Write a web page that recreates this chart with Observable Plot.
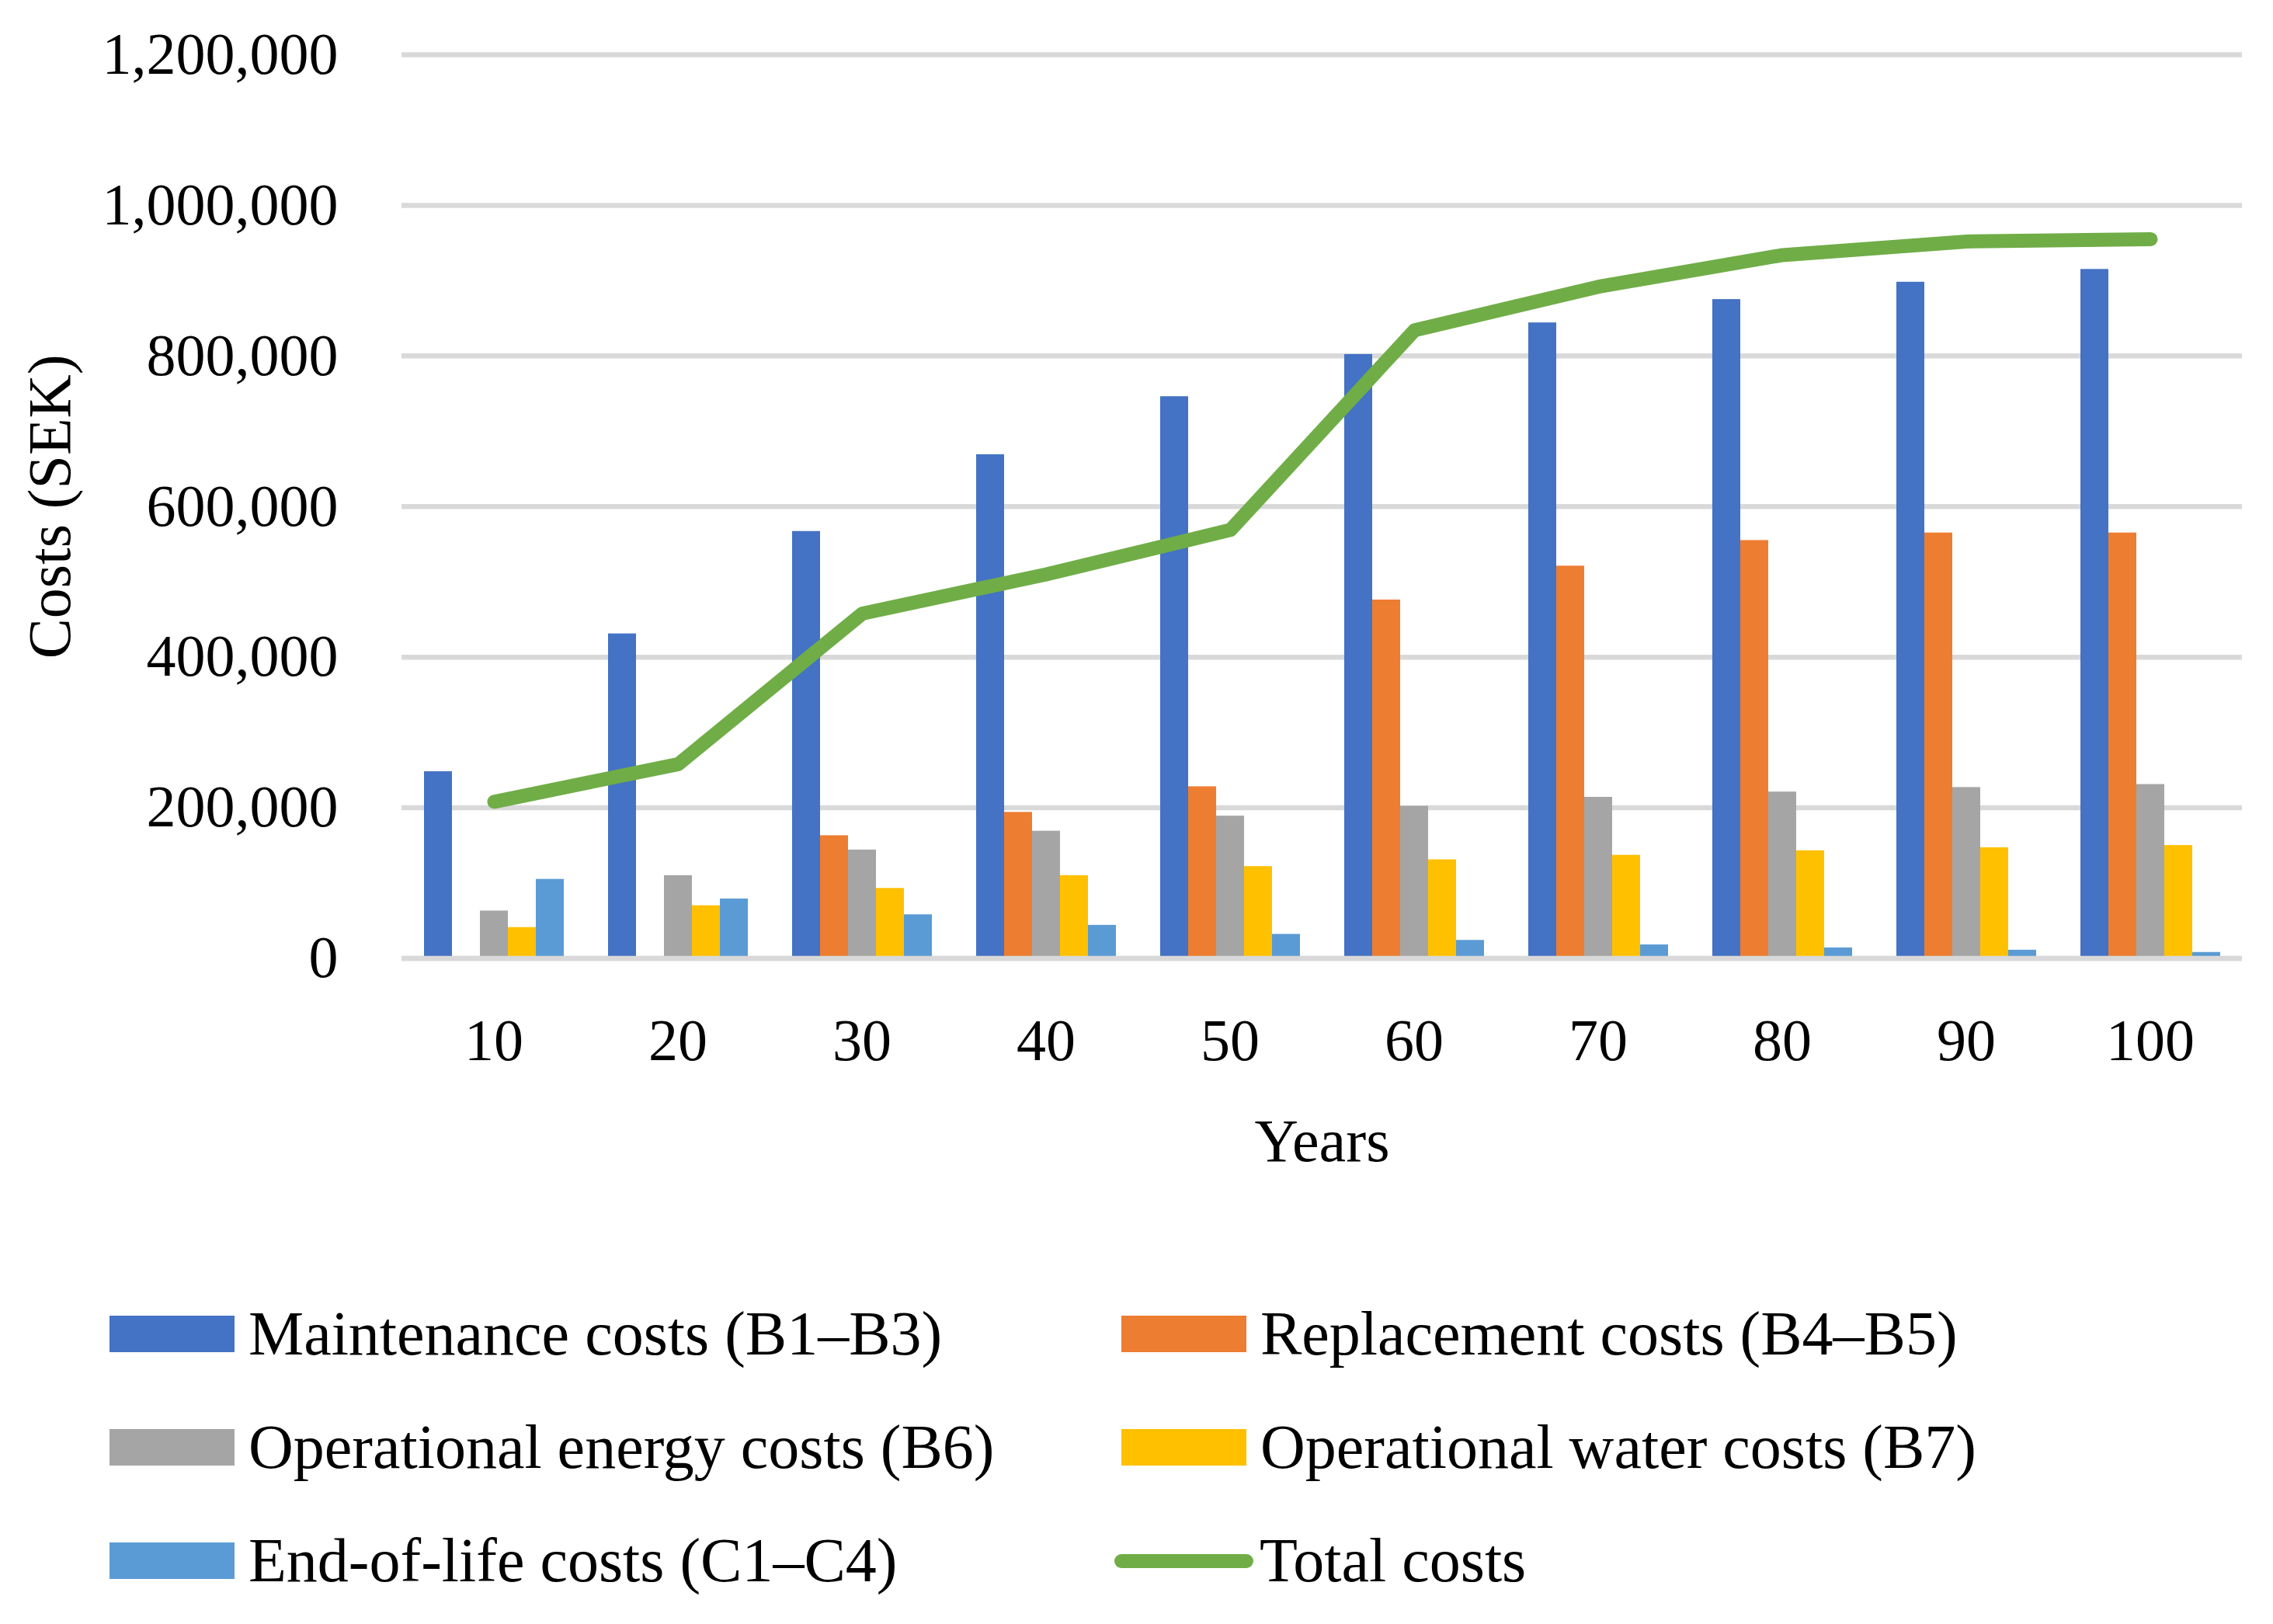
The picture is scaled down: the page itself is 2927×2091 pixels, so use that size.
<!DOCTYPE html>
<html>
<head>
<meta charset="utf-8">
<script src="https://cdn.jsdelivr.net/npm/d3@7"></script>
<script src="https://cdn.jsdelivr.net/npm/@observablehq/plot@0.6"></script>
<style>
html, body { margin: 0; padding: 0; background: #fff; overflow: hidden; }
#chart { position: relative; width: 2927px; height: 1560px; }
#chart svg { position: absolute; left: 0; top: 0; background: transparent; }
#legend { display: grid; grid-template-columns: 1303px auto; padding: 84.5px 0 0 141px;
  font-family: "Liberation Serif", serif; font-size: 80px; color: #000; }
.item { display: flex; align-items: center; height: 146px; white-space: nowrap; }
.sw { width: 161px; height: 47px; margin-right: 18px; flex: none; }
.ln { width: 179px; height: 18px; border-radius: 9px; margin-left: -9px; margin-right: 8px; flex: none; }
</style>
</head>
<body>
<div id="chart"></div>
<div id="legend"></div>
<script>
// ---- data ----
const years = [10, 20, 30, 40, 50, 60, 70, 80, 90, 100];
const maintenance = [248000, 431000, 567000, 669000, 746000, 802000, 844000, 875000, 898000, 915000];
const replacement = [0, 0, 163000, 194000, 228000, 476000, 521000, 555000, 565000, 565000];
const energy = [63000, 110000, 144000, 169000, 189000, 202000, 214000, 221000, 227000, 231000];
const water = [41000, 70000, 93000, 110000, 122000, 131000, 137000, 143000, 147000, 150000];
const endOfLife = [105000, 79000, 58000, 44000, 32000, 24000, 18000, 14000, 11000, 8000];
const total = [208000, 258000, 458000, 510000, 569000, 834000, 892000, 934000, 952000, 955000];
const yTicks = [0, 200000, 400000, 600000, 800000, 1000000, 1200000];
const seriesNames = [
  "Maintenance costs (B1–B3)",
  "Replacement costs (B4–B5)",
  "Operational energy costs (B6)",
  "Operational water costs (B7)",
  "End-of-life costs (C1–C4)"
];
const lineName = "Total costs";
const barColors = ["#4472C4", "#ED7D31", "#A5A5A5", "#FFC000", "#5B9BD5"];
const lineColor = "#70AD47";
const xTitle = "Years";
const yTitle = "Costs (SEK)";

// ---- tables built from the arrays ----
const seriesValues = [maintenance, replacement, energy, water, endOfLife];
const barData = [];
seriesValues.forEach((vals, s) => {
  vals.forEach((v, i) => barData.push({year: years[i], series: seriesNames[s], value: v}));
});
const totalData = years.map((y, i) => ({year: y, total: total[i]}));

// ---- shared layout ----
const W = 2927, H = 1560;
const dims = {width: W, height: H, marginLeft: 517, marginRight: 40, marginTop: 70, marginBottom: 326.5};
const yScale = {domain: [0, 1200000], axis: null};
const font = {fontFamily: "Liberation Serif, serif", fontSize: "76px", color: "#000", background: "transparent", overflow: "visible"};
const chart = document.getElementById("chart");

// Layer 1: gridlines, axes, titles
chart.appendChild(Plot.plot({
  ...dims,
  style: font,
  x: {type: "band", domain: years, paddingInner: 0.228, paddingOuter: 0.114},
  y: {domain: [0, 1200000]},
  marks: [
    Plot.gridY(yTicks, {stroke: "#D9D9D9", strokeOpacity: 1, strokeWidth: 6.5}),
    Plot.axisY(yTicks, {tickFormat: d3.format(","), tickSize: 0, tickPadding: 82, fontSize: 76, label: null}),
    Plot.axisX({tickSize: 0, tickPadding: 77, fontSize: 76, label: null}),
    Plot.text([xTitle], {text: d => d, frameAnchor: "bottom", dy: 236, lineAnchor: "middle", textAnchor: "middle", fontSize: 78}),
    Plot.text([yTitle], {text: d => d, frameAnchor: "left", rotate: -90, dx: -452, lineAnchor: "middle", textAnchor: "middle", fontSize: 78})
  ]
}));

// Layer 2: grouped bars (faceted by year)
chart.appendChild(Plot.plot({
  ...dims,
  style: font,
  fx: {domain: years, paddingInner: 0.228, paddingOuter: 0.114, axis: null, label: null},
  x: {domain: seriesNames, padding: 0, axis: null},
  y: yScale,
  color: {domain: seriesNames, range: barColors},
  marks: [
    Plot.barY(barData, {fx: "year", x: "series", y: "value", fill: "series"})
  ]
}));

// Layer 3: axis baseline and total line
chart.appendChild(Plot.plot({
  ...dims,
  style: font,
  x: {type: "point", domain: years, padding: 0.5, axis: null},
  y: yScale,
  marks: [
    Plot.ruleY([0], {stroke: "#D9D9D9", strokeWidth: 6.5}),
    Plot.line(totalData, {x: "year", y: "total", stroke: lineColor, strokeWidth: 18,
      strokeLinecap: "round", strokeLinejoin: "round"})
  ]
}));

// Legend
const legend = document.getElementById("legend");
seriesNames.forEach((name, i) => {
  const it = document.createElement("div");
  it.className = "item";
  const sw = document.createElement("span");
  sw.className = "sw";
  sw.style.background = barColors[i];
  it.appendChild(sw);
  it.appendChild(document.createTextNode(name));
  legend.appendChild(it);
});
{
  const it = document.createElement("div");
  it.className = "item";
  const ln = document.createElement("span");
  ln.className = "ln";
  ln.style.background = lineColor;
  it.appendChild(ln);
  it.appendChild(document.createTextNode(lineName));
  legend.appendChild(it);
}
</script>
</body>
</html>
